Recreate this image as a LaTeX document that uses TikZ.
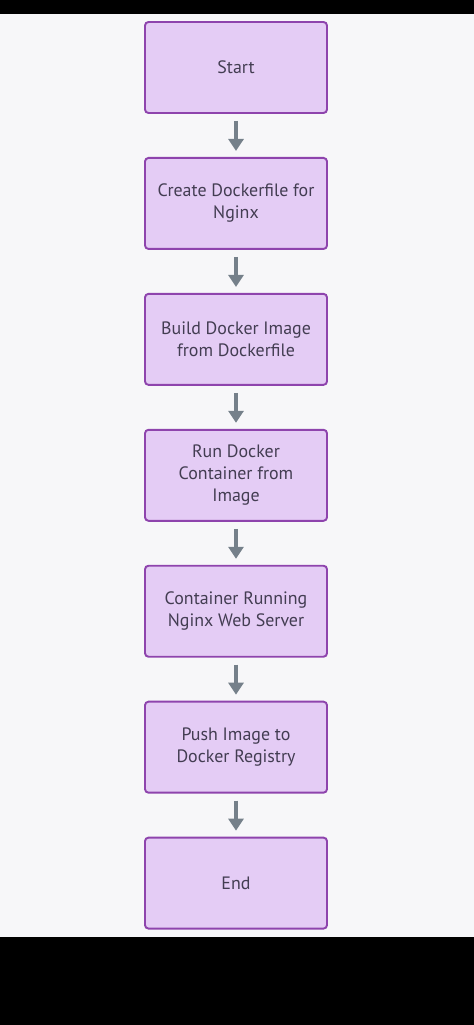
\documentclass[tikz,border=0pt]{standalone}
\usepackage{fontspec}
\setmainfont{PT Sans}
\usepackage{tikz}
\usetikzlibrary{positioning, arrows.meta}

\definecolor{boxfill}{HTML}{E4CCF5}
\definecolor{boxline}{HTML}{8E44AD}
\definecolor{txtcol}{HTML}{433D52}
\definecolor{arrcol}{HTML}{75808A}
\definecolor{bgcol}{HTML}{F7F7F9}

\begin{document}
\begin{tikzpicture}[
  font=\fontsize{10.2}{12.6}\selectfont,
  stepbox/.style={draw=boxline, fill=boxfill, line width=1.1pt, rounded corners=2pt,
                  minimum width=3.64cm, minimum height=1.82cm, align=center,
                  text=txtcol, inner sep=2pt},
  flow/.style={-{Triangle[length=2.4mm, width=3mm]}, line width=2.2pt, arrcol,
               shorten <=0.14cm, shorten >=0.12cm},
  node distance=0.86cm,
]
  % --- page: black bars and light background ---
  \useasboundingbox (0,0) rectangle (9.48,-20.5);
  \fill[black] (0,0) rectangle (9.48,-0.28);
  \fill[bgcol] (0,-0.28) rectangle (9.48,-18.74);
  \fill[black] (0,-18.74) rectangle (9.48,-20.5);

  % --- steps ---
  \node[stepbox] (start) at (4.72,-1.35) {Start};
  \node[stepbox, below=of start] (dockerfile) {Create Dockerfile for\\Nginx};
  \node[stepbox, below=of dockerfile] (build) {Build Docker Image\\from Dockerfile};
  \node[stepbox, below=of build] (run) {Run Docker\\Container from\\Image};
  \node[stepbox, below=of run] (running) {Container Running\\Nginx Web Server};
  \node[stepbox, below=of running] (push) {Push Image to\\Docker Registry};
  \node[stepbox, below=of push] (end) {End};

  % --- arrows ---
  \draw[flow] (start) -- (dockerfile);
  \draw[flow] (dockerfile) -- (build);
  \draw[flow] (build) -- (run);
  \draw[flow] (run) -- (running);
  \draw[flow] (running) -- (push);
  \draw[flow] (push) -- (end);
\end{tikzpicture}
\end{document}
